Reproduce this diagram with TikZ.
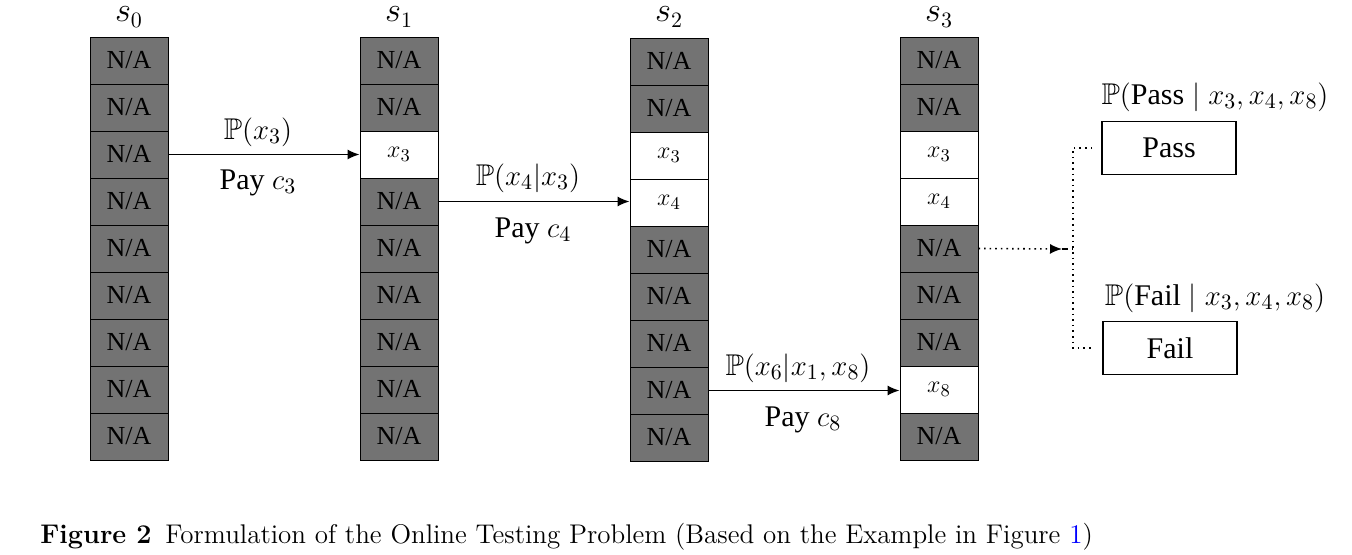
\documentclass[tikz,border=0pt]{standalone}
\usepackage{amsmath,amssymb}
\usepackage{fontspec}
\newfontfamily\tnr{Liberation Serif}
\usetikzlibrary{arrows.meta}
\begin{document}
\begin{tikzpicture}[x=0.5pt,y=-0.5pt,
  cell/.style={draw,minimum width=39pt,minimum height=23.5pt,inner sep=0pt,font=\tnr\fontsize{13}{13}\selectfont},
  na/.style={cell,fill=black!55},
  xv/.style={cell,fill=white},
  lab/.style={font=\tnr\fontsize{15}{16}\selectfont,inner sep=0pt},
  outbox/.style={draw,thick,minimum width=67pt,minimum height=26.5pt,inner sep=0pt,font=\tnr\fontsize{15}{15}\selectfont},
  arr/.style={thick,-{Latex[length=6pt,width=5pt]}}]
\useasboundingbox (0,0) rectangle (1352,555);
% columns
\foreach \c/\x/\t in {0/129/0,1/399/1,2/669/2,3/939/3}{
  \node[lab,font=\fontsize{16}{16}\selectfont] (t\c) at (\x,17) {$s_{\t}$};
}
\foreach \i in {1,...,9}{
  \pgfmathsetmacro\yy{37+47*(\i-0.5)}
  \node[na] (a\i) at (129,\yy) {N/A};
}
\foreach \i/\s in {1/na,2/na,3/xv,4/na,5/na,6/na,7/na,8/na,9/na}{
  \pgfmathsetmacro\yy{37+47*(\i-0.5)}
  \node[\s] (b\i) at (399,\yy) {\ifnum\i=3 $x_3$\else N/A\fi};
}
\foreach \i/\s in {1/na,2/na,3/xv,4/xv,5/na,6/na,7/na,8/na,9/na}{
  \pgfmathsetmacro\yy{38+47*(\i-0.5)}
  \node[\s] (c\i) at (669,\yy) {\ifnum\i=3 $x_3$\else\ifnum\i=4 $x_4$\else N/A\fi\fi};
}
\foreach \i/\s in {1/na,2/na,3/xv,4/xv,5/na,6/na,7/na,8/xv,9/na}{
  \pgfmathsetmacro\yy{37+47*(\i-0.5)}
  \node[\s] (d\i) at (939,\yy) {\ifnum\i=3 $x_3$\else\ifnum\i=4 $x_4$\else\ifnum\i=8 $x_8$\else N/A\fi\fi\fi};
}
% transitions
\draw[arr] (a3.east) -- (b3.west);
\node[lab] (p1) at (258,132) {$\mathbb{P}(x_3)$};
\node[lab] (q1) at (258,183) {Pay $c_3$};
\draw[arr] (b4.east) -- (b4.east -| c4.west);
\node[lab] (p2) at (528,178) {$\mathbb{P}(x_4|x_3)$};
\node[lab] (q2) at (533,231) {Pay $c_4$};
\draw[arr] (c8.east) -- (c8.east -| d8.west);
\node[lab] (p3) at (798,368) {$\mathbb{P}(x_6|x_1,x_8)$};
\node[lab] (q3) at (803,420) {Pay $c_8$};
% outcomes
\node[outbox] (pass) at (1169,148) {Pass};
\node[outbox] (fail) at (1170,348) {Fail};
\node[lab] (pp) at (1215,97) {$\mathbb{P}(\text{\tnr Pass}\mid x_3,x_4,x_8)$};
\node[lab] (pf) at (1215,298) {$\mathbb{P}(\text{\tnr Fail}\mid x_3,x_4,x_8)$};
\coordinate (j) at (1073,249);
\coordinate (ja) at (1062,249);
\draw[thick,dotted,-{Latex[length=6pt,width=5pt]}] (d5.east) -- (ja);
\draw[thick,densely dashed] (ja) -- (j);
\draw[thick,dotted] ([xshift=-4.5pt]pass.west) -| (j) |- ([xshift=-4.5pt]fail.west);
% caption
\node[anchor=west,inner sep=0pt,font=\fontsize{13.5}{13.5}\selectfont] (cap) at (40,537) {\textbf{Figure 2}};
\node[anchor=west,inner sep=0pt,font=\fontsize{13.5}{13.5}\selectfont] (capt) at (165,537) {Formulation of the Online Testing Problem (Based on the Example in Figure \textcolor{blue}{1})};
\end{tikzpicture}
\end{document}
